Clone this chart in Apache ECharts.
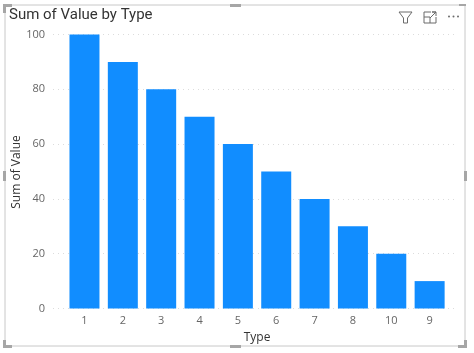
<!DOCTYPE html>
<html>
<head>
<meta charset="utf-8">
<style>
  html, body { margin: 0; padding: 0; background: #fff; }
  #chart { width: 474px; height: 353px; }
</style>
<script src="https://cdn.jsdelivr.net/npm/echarts@6/dist/echarts.min.js"></script>
</head>
<body>
<div id="chart"></div>
<script>
const categories = ['1', '2', '3', '4', '5', '6', '7', '8', '10', '9'];
const values = [100, 90, 80, 70, 60, 50, 40, 30, 20, 10];
const yTicks = [0, 20, 40, 60, 80, 100];

const frameColor = '#c8c8c8';
const handleColor = '#a6a6a6';
const iconColor = '#6b6b6b';

// little drag handles round the visual frame
function handle(x, y, w, h) {
  return { type: 'rect', shape: { x: x, y: y, width: w, height: h }, style: { fill: handleColor } };
}

const chart = echarts.init(document.getElementById('chart'));
chart.setOption({
  animation: false,
  backgroundColor: '#fff',
  title: {
    text: 'Sum of Value by Type',
    left: 4,
    top: 3,
    textStyle: { fontFamily: 'Roboto', fontSize: 15, fontWeight: 'normal', color: '#333' }
  },
  // grid 0 is only for the dotted lines and y labels, they run wider than the bars
  grid: [
    { left: 53, right: 18, top: 34.5, bottom: 44.5 },
    { left: 65.3, right: 25.2, top: 34.5, bottom: 44.5 }
  ],
  xAxis: [
    { gridIndex: 0, type: 'value', show: false, min: 0, max: 1 },
    {
      gridIndex: 1,
      type: 'category',
      data: categories,
      name: 'Type',
      nameLocation: 'middle',
      nameGap: 18,
      nameTextStyle: { fontFamily: 'Open Sans', fontSize: 12, color: '#333' },
      axisLine: { show: false },
      axisTick: { show: false },
      axisLabel: { fontFamily: 'Open Sans', fontSize: 11, color: '#666', margin: 7 }
    }
  ],
  yAxis: [
    {
      gridIndex: 0,
      type: 'value',
      min: 0,
      max: 100,
      interval: yTicks[1] - yTicks[0],
      axisLine: { show: false },
      axisTick: { show: false },
      axisLabel: { fontFamily: 'Open Sans', fontSize: 11, color: '#666', margin: 8 },
      splitLine: { lineStyle: { color: '#dcdcdc', type: [1, 4], width: 1 } }
    },
    {
      gridIndex: 1,
      type: 'value',
      min: 0,
      max: 100,
      axisLine: { show: false },
      axisTick: { show: false },
      axisLabel: { show: false },
      splitLine: { show: false }
    }
  ],
  series: [{
    type: 'bar',
    xAxisIndex: 1,
    yAxisIndex: 1,
    data: values,
    barWidth: 30,
    itemStyle: { color: '#118dff' }
  }],
  graphic: [
    { type: 'text', rotation: Math.PI / 2, x: 17, y: 172,
      style: { text: 'Sum of Value', font: '12px "Open Sans"', fill: '#333', align: 'center', verticalAlign: 'middle' } },
    { type: 'rect', shape: { x: 5, y: 5, width: 460, height: 341 },
      style: { fill: null, stroke: frameColor, lineWidth: 1 }, silent: true },
    handle(3, 4, 9, 3), handle(3, 4, 3, 9),
    handle(230, 4, 11, 3),
    handle(459, 4, 7, 2),
    handle(3, 171, 3, 10),
    handle(464, 171, 3, 10),
    handle(3, 345, 9, 3), handle(3, 340, 3, 8),
    handle(230, 345, 11, 3),
    handle(458, 345, 9, 3), handle(464, 340, 3, 8),
    // filter icon
    { type: 'polyline', shape: { points: [[399, 12], [412, 12], [407.5, 18], [407.5, 23], [403.5, 23], [403.5, 18], [399, 12]] },
      style: { fill: null, stroke: iconColor, lineWidth: 1 } },
    // focus icon
    { type: 'polyline', shape: { points: [[431, 12], [424, 12], [424, 23], [436, 23], [436, 17]] },
      style: { fill: null, stroke: iconColor, lineWidth: 1 } },
    { type: 'polyline', shape: { points: [[424, 17], [430, 17], [430, 23]] },
      style: { fill: null, stroke: iconColor, lineWidth: 1 } },
    { type: 'polyline', shape: { points: [[430, 18], [436, 12], [432, 12], [436, 12], [436, 16]] },
      style: { fill: null, stroke: iconColor, lineWidth: 1 } },
    // more icon
    { type: 'circle', shape: { cx: 449, cy: 16.5, r: 1 }, style: { fill: iconColor } },
    { type: 'circle', shape: { cx: 453.5, cy: 16.5, r: 1 }, style: { fill: iconColor } },
    { type: 'circle', shape: { cx: 458, cy: 16.5, r: 1 }, style: { fill: iconColor } }
  ]
});
</script>
</body>
</html>
